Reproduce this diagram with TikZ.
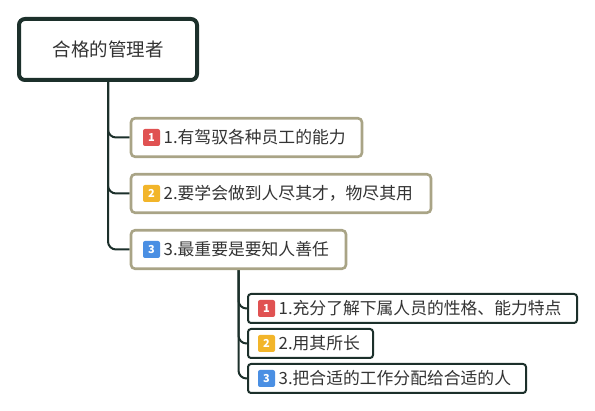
\documentclass[tikz,border=0pt]{standalone}
\usepackage{fontspec}
\setmainfont{Noto Sans CJK SC}
\usetikzlibrary{backgrounds}
\definecolor{dk}{HTML}{1C302B}
\definecolor{kh}{HTML}{A9A486}
\definecolor{tx}{HTML}{333333}
\definecolor{bred}{HTML}{E05252}
\definecolor{bora}{HTML}{F2B52A}
\definecolor{bblu}{HTML}{4A8FE3}
\begin{document}
\begin{tikzpicture}[x=1pt,y=1pt,
  rootbox/.style={draw=dk,line width=4pt,rounded corners=6pt,fill=white,minimum width=178pt,minimum height=61pt,inner sep=0pt,font=\fontsize{18.5}{20}\selectfont,text=tx},
  lvone/.style={draw=kh,line width=2.6pt,rounded corners=4pt,fill=white,minimum height=38.5pt,inner sep=0pt},
  lvtwo/.style={draw=dk,line width=2pt,rounded corners=3pt,fill=white,minimum height=29pt,inner sep=0pt},
  badge/.style={fill=#1,rounded corners=2pt,minimum width=17pt,minimum height=17pt,inner sep=0pt,text=white,font=\fontsize{11}{12}\selectfont\bfseries},
  lbl/.style={anchor=west,inner sep=0pt,text=tx,font=\fontsize{16.8}{18}\selectfont},
  conn/.style={draw=dk,line width=2pt,rounded corners=8pt}]
\useasboundingbox (0,0) rectangle (595,-411);
\node[rootbox] (root) at (108,-49.5) {合格的管理者};
\node[lvone,minimum width=231pt] (b1) at (246.5,-137.5) {};
\node[lvone,minimum width=300pt] (b2) at (281,-193.5) {};
\node[lvone,minimum width=215pt] (b3) at (238.5,-249.5) {};
\node[lvtwo,minimum width=329pt] (s1) at (412.5,-308.5) {};
\node[lvtwo,minimum width=125pt] (s2) at (310.5,-343.5) {};
\node[lvtwo,minimum width=278pt] (s3) at (387,-378.5) {};
\begin{scope}[on background layer]
\draw[conn] (root.south) |- (b1.west);
\draw[conn] (root.south) |- (b2.west);
\draw[conn] (root.south) |- (b3.west);
\draw[conn] (b3.south) |- (s1.west);
\draw[conn] (b3.south) |- (s2.west);
\draw[conn] (b3.south) |- (s3.west);
\end{scope}
\node[badge=bred] (k1) at (151.5,-137.5) {1};
\node[lbl] (t1) at (163.5,-137.5) {1.有驾驭各种员工的能力};
\node[badge=bora] (k2) at (151.5,-193.5) {2};
\node[lbl] (t2) at (163.5,-193.5) {2.要学会做到人尽其才，物尽其用};
\node[badge=bblu] (k3) at (151.5,-249.5) {3};
\node[lbl] (t3) at (163.5,-249.5) {3.最重要是要知人善任};
\node[badge=bred] (m1) at (266.5,-308.5) {1};
\node[lbl] (u1) at (278.5,-308.5) {1.充分了解下属人员的性格、能力特点};
\node[badge=bora] (m2) at (266.5,-343.5) {2};
\node[lbl] (u2) at (278.5,-343.5) {2.用其所长};
\node[badge=bblu] (m3) at (266.5,-378.5) {3};
\node[lbl] (u3) at (278.5,-378.5) {3.把合适的工作分配给合适的人};
\end{tikzpicture}
\end{document}
